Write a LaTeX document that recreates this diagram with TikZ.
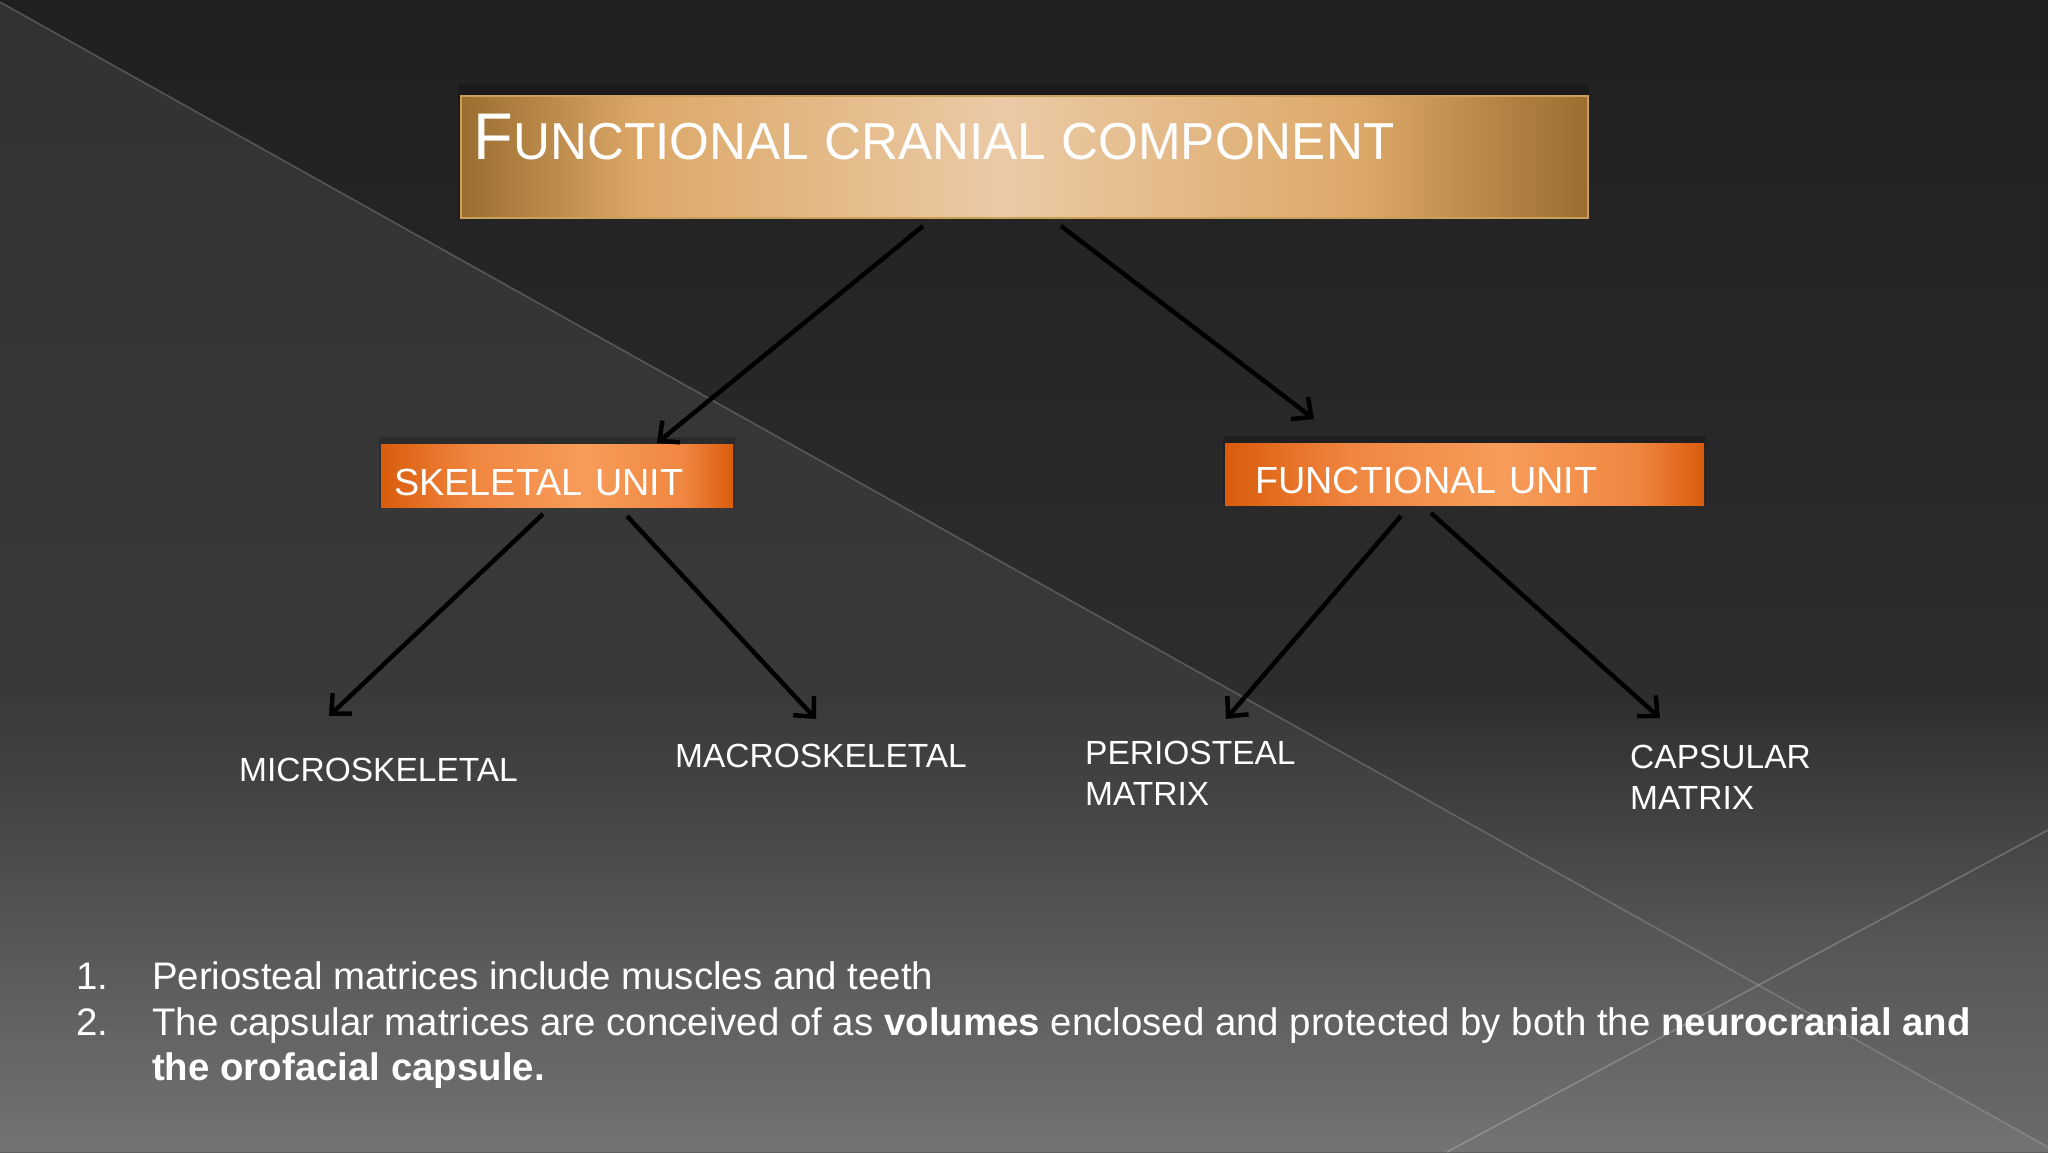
\documentclass[tikz,border=0pt]{standalone}
\usepackage{fontspec}
\setmainfont{Liberation Sans}
\newfontfamily\titlefont[FakeStretch=0.985]{Liberation Sans}
\usetikzlibrary{arrows.meta}
\definecolor{goldE}{HTML}{9A6D2E}
\definecolor{goldA}{HTML}{DCA868}
\definecolor{goldC}{HTML}{EBCAA6}
\definecolor{goldLine}{HTML}{C9A05A}
\definecolor{orE}{HTML}{DA5C0C}
\definecolor{orA}{HTML}{F08640}
\definecolor{orC}{HTML}{F79C5A}
\pgfdeclarehorizontalshading{goldsh}{100bp}{color(0bp)=(goldE); color(25bp)=(goldE); color(33bp)=(goldA); color(49bp)=(goldC); color(65bp)=(goldA); color(75bp)=(goldE); color(100bp)=(goldE)}
\pgfdeclarehorizontalshading{orangesh}{100bp}{color(0bp)=(orE); color(25bp)=(orE); color(38bp)=(orA); color(54bp)=(orC); color(68bp)=(orA); color(75bp)=(orE); color(100bp)=(orE)}
\pgfdeclareverticalshading{bgsh}{100bp}{color(0bp)=(rgb,255:red,107;green,107;blue,109); color(25bp)=(rgb,255:red,107;green,107;blue,109); color(33.55bp)=(rgb,255:red,88;green,88;blue,91); color(39.9bp)=(rgb,255:red,64;green,64;blue,67); color(45bp)=(rgb,255:red,45;green,45;blue,47); color(75bp)=(rgb,255:red,32;green,32;blue,32); color(100bp)=(rgb,255:red,32;green,32;blue,32)}
\pgfdeclareverticalshading{llsh}{100bp}{color(0bp)=(rgb,255:red,115;green,115;blue,115); color(25bp)=(rgb,255:red,115;green,115;blue,115); color(31.6bp)=(rgb,255:red,95;green,95;blue,95); color(40.3bp)=(rgb,255:red,68;green,68;blue,68); color(45bp)=(rgb,255:red,57;green,57;blue,57); color(75bp)=(rgb,255:red,50;green,50;blue,50); color(100bp)=(rgb,255:red,50;green,50;blue,50)}
\tikzset{
  titlebox/.style={shading=goldsh, draw=goldLine, line width=1.5pt, anchor=north west, inner ysep=0pt, align=left, text=white},
  unitbox/.style={shading=orangesh, anchor=north west, inner ysep=0pt, align=left, text=white, font=\fontsize{37.8}{40}\selectfont},
  lbl/.style={text=white, inner sep=0pt, font=\fontsize{33.5}{41}\selectfont, align=left},
  arr/.style={draw=black, line width=4.5pt, -{Straight Barb[length=15pt,width=28pt]}},
  shadowfill/.style={fill=black, opacity=0.18},
  faintline/.style={draw=white, opacity=0.22, line width=1.5pt}
}
\begin{document}
\begin{tikzpicture}[x=1pt,y=-1pt]
\useasboundingbox (0,0) rectangle (2048,1152);
% background
\fill[shading=bgsh] (0,0) rectangle (2048,1152);
\fill[shading=llsh] (0,0) -- (0,2) -- (2048,1147) -- (2048,1152) -- (0,1152) -- cycle;
\draw[faintline] (0,2) -- (2048,1147);
\draw[faintline] (1447,1152) -- (2048,830);
% shadows
\fill[shadowfill] (458,84) rectangle (1589,218);
\fill[shadowfill] (379,437) rectangle (735,508);
\fill[shadowfill] (1223,436) rectangle (1706,506);
% boxes
\node[titlebox, text width=1101pt, inner xsep=13pt, text height=64pt, text depth=58pt] (fcc) at (460,95)
  {\titlefont{\fontsize{66}{66}\selectfont F}{\fontsize{52}{52}\selectfont UNCTIONAL\hspace{15pt}CRANIAL\hspace{15pt}COMPONENT}};
\node[unitbox, text width=326pt, inner xsep=13pt, text height=51pt, text depth=12pt] (skel) at (381,444) {SKELETAL UNIT};
\node[unitbox, text width=419pt, inner xsep=30pt, text height=50pt, text depth=12pt] (func) at (1225,443) {FUNCTIONAL UNIT};
% leaf labels
\node[lbl, anchor=base west] (micro) at (239,781) {MICROSKELETAL};
\node[lbl, anchor=base west] (macro) at (675,767) {MACROSKELETAL};
\node[lbl, anchor=north west] (peri) at (1085,741) {PERIOSTEAL\\MATRIX};
\node[lbl, anchor=north west] (caps) at (1630,745) {CAPSULAR\\MATRIX};
% arrow endpoints
\coordinate (a1s) at (923,226); \coordinate (a1e) at (657,443);
\coordinate (a2s) at (1061,226); \coordinate (a2e) at (1314,419);
\coordinate (a3s) at (543,514); \coordinate (a3e) at (329,716);
\coordinate (a4s) at (627,516); \coordinate (a4e) at (816,719);
\coordinate (a5s) at (1401,516); \coordinate (a5e) at (1226,719);
\coordinate (a6s) at (1431,513); \coordinate (a6e) at (1660,718);
\draw[arr] (a1s) -- (a1e);
\draw[arr] (a2s) -- (a2e);
\draw[arr] (a3s) -- (a3e);
\draw[arr] (a4s) -- (a4e);
\draw[arr] (a5s) -- (a5e);
\draw[arr] (a6s) -- (a6e);
% notes
\node[text=white, inner sep=0pt, anchor=north west, align=left, font=\fontsize{38.4}{45.5}\selectfont] (notes) at (76,961.5)
  {\makebox[76pt][l]{1.}Periosteal matrices include muscles and teeth\\
   \makebox[76pt][l]{2.}The capsular matrices are conceived of as \textbf{volumes} enclosed and protected by both the \textbf{neurocranial and}\\
   \hspace*{76pt}\textbf{the orofacial capsule.}};
\end{tikzpicture}
\end{document}
